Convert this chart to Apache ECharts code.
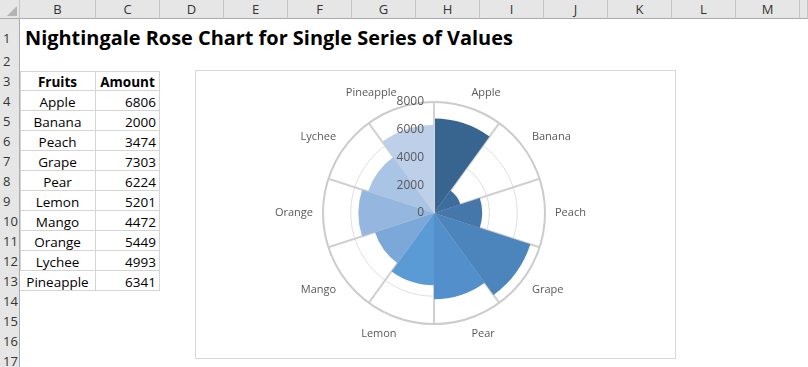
<!DOCTYPE html>
<html><head><meta charset="utf-8">
<script src="https://cdn.jsdelivr.net/npm/echarts@6/dist/echarts.min.js"></script>
<style>
html,body{margin:0;padding:0;background:#fff;width:808px;height:367px;overflow:hidden;font-family:"Open Sans",sans-serif;}
.abs{position:absolute;box-sizing:border-box;}
.colhdr{background:#e6e6e6;color:#333;font-size:13px;text-align:center;line-height:19px;border-right:1px solid #c6c6c6;border-bottom:1px solid #ababab;}
.rowhdr{background:#e6e6e6;color:#333;font-size:13px;line-height:21px;padding-left:3px;border-right:1px solid #ababab;}
.cell{font-size:13.5px;color:#000;line-height:22px;border-right:1px solid #d4d4d4;border-bottom:1px solid #d4d4d4;white-space:nowrap;}
#title{font-weight:bold;white-space:nowrap;color:#000;}
#chartBox{left:195px;top:70px;width:481px;height:289px;border:1px solid #d9d9d9;background:#fff;}
#chart{position:absolute;left:0;top:0;width:479px;height:287px;}
</style></head>
<body>
<div id="sheet"></div>
<div id="chartBox" class="abs"><div id="chart"></div></div>
<script>
// ---- data ----
const titleText = 'Nightingale Rose Chart for Single Series of Values';
const tableHeaders = ['Fruits', 'Amount'];
const fruits = ['Apple','Banana','Peach','Grape','Pear','Lemon','Mango','Orange','Lychee','Pineapple'];
const amounts = [6806, 2000, 3474, 7303, 6224, 5201, 4472, 5449, 4993, 6341];
const radiusTicks = [0, 2000, 4000, 6000, 8000];
const columnLetters = ['B','C','D','E','F','G','H','I','J','K','L','M'];
const rowNumbers = [1,2,3,4,5,6,7,8,9,10,11,12,13,14,15,16,17];
// palette (style)
const sliceColors = ['#386490','#3d6d9d','#4577ab','#4c85bc','#538fcb','#5b9bd5','#7ba7d9','#95b6df','#aac4e5','#bdcfe9'];

// ---- spreadsheet layout ----
const sheet = document.getElementById('sheet');
const colX = [20, 96];
for (let i = 2; i <= columnLetters.length; i++) colX.push(96 + 64 * (i - 1));
function rowTop(r){ if (r === 1) return 19; if (r === 2) return 51; return 71 + 20 * (r - 3); }
function rowH(r){ return r === 1 ? 32 : 20; }
function add(cls, x, y, w, h, text, style){
  const d = document.createElement('div');
  d.className = 'abs ' + cls;
  d.style.left = x + 'px'; d.style.top = y + 'px';
  d.style.width = w + 'px'; d.style.height = h + 'px';
  if (text !== undefined) d.textContent = text;
  if (style) Object.assign(d.style, style);
  sheet.appendChild(d);
  return d;
}
const corner = add('colhdr', 0, 0, 20, 19, '');
corner.innerHTML = '<svg width="19" height="18" style="position:absolute;left:0;top:0"><polygon points="17,6 17,16 7,16" fill="#b4b4b4"/></svg>';
columnLetters.forEach((L, i) => add('colhdr', colX[i], 0, colX[i + 1] - colX[i], 19, L));
add('colhdr', 800, 0, 8, 19, '');
rowNumbers.forEach(r => add('rowhdr', 0, rowTop(r), 20, rowH(r), String(r), r === 1 ? {lineHeight:'38px'} : null));
const tblRows = [tableHeaders].concat(fruits.map((f, i) => [f, String(amounts[i])]));
tblRows.forEach((row, k) => {
  const r = 3 + k, y = rowTop(r);
  const bold = k === 0 ? {fontWeight:'bold'} : {};
  add('cell', colX[0], y, colX[1] - colX[0], 20, row[0], Object.assign({textAlign:'center'}, bold));
  add('cell', colX[1], y, colX[2] - colX[1], 20, row[1], Object.assign({textAlign: k === 0 ? 'center' : 'right', paddingRight: k === 0 ? '0' : '3px'}, bold));
});
add('', colX[0], rowTop(3), colX[2] - colX[0], 1, '', {background:'#d4d4d4'});
add('', colX[0], rowTop(3), 1, 200, '', {background:'#d4d4d4'});
const t = add('', 25, 19, 600, 32, titleText, {fontSize:'22px', lineHeight:'38px'});
t.id = 'title';
const cv = document.createElement('canvas').getContext('2d');
cv.font = 'bold 22px "Open Sans"';
const w22 = cv.measureText(titleText).width;
t.style.fontSize = (22 * 488 / w22).toFixed(2) + 'px';

// ---- chart ----
const chart = echarts.init(document.getElementById('chart'), null, {renderer:'canvas'});
const labelColor = '#595959';
const center = [238, 142];
const radius = 111;
chart.setOption({
  animation: false,
  polar: [{center: center, radius: radius}, {center: center, radius: radius}],
  angleAxis: [{
    polarIndex: 0, type: 'category', data: fruits, startAngle: 90, clockwise: true,
    axisLine: {show: true, lineStyle: {color: '#cccccc', width: 2}},
    axisTick: {show: false},
    axisLabel: {color: labelColor, fontSize: 11, fontFamily: 'Open Sans', margin: 10},
    splitLine: {show: true, lineStyle: {color: '#d0d0d0', width: 2}}
  }, {
    polarIndex: 1, type: 'category', data: fruits, startAngle: 90, clockwise: true, show: false
  }],
  radiusAxis: [{
    polarIndex: 0, min: radiusTicks[0], max: radiusTicks[radiusTicks.length - 1], interval: radiusTicks[1] - radiusTicks[0],
    axisLine: {show: false}, axisTick: {show: false}, axisLabel: {show: false},
    splitLine: {show: true, lineStyle: {color: '#dedede', width: 1}}
  }, {
    polarIndex: 1, z: 10, min: radiusTicks[0], max: radiusTicks[radiusTicks.length - 1], interval: radiusTicks[1] - radiusTicks[0],
    axisLine: {show: true, lineStyle: {color: '#d6d6d6', width: 1}}, axisTick: {show: false},
    axisLabel: {show: true, color: labelColor, fontSize: 12, fontFamily: 'Open Sans', margin: 10, formatter: v => String(v)},
    splitLine: {show: false}
  }],
  series: [{
    type: 'bar', coordinateSystem: 'polar', polarIndex: 0,
    barCategoryGap: '0%',
    data: amounts.map((v, i) => ({value: v, itemStyle: {color: sliceColors[i]}}))
  }]
});
</script>
</body></html>
